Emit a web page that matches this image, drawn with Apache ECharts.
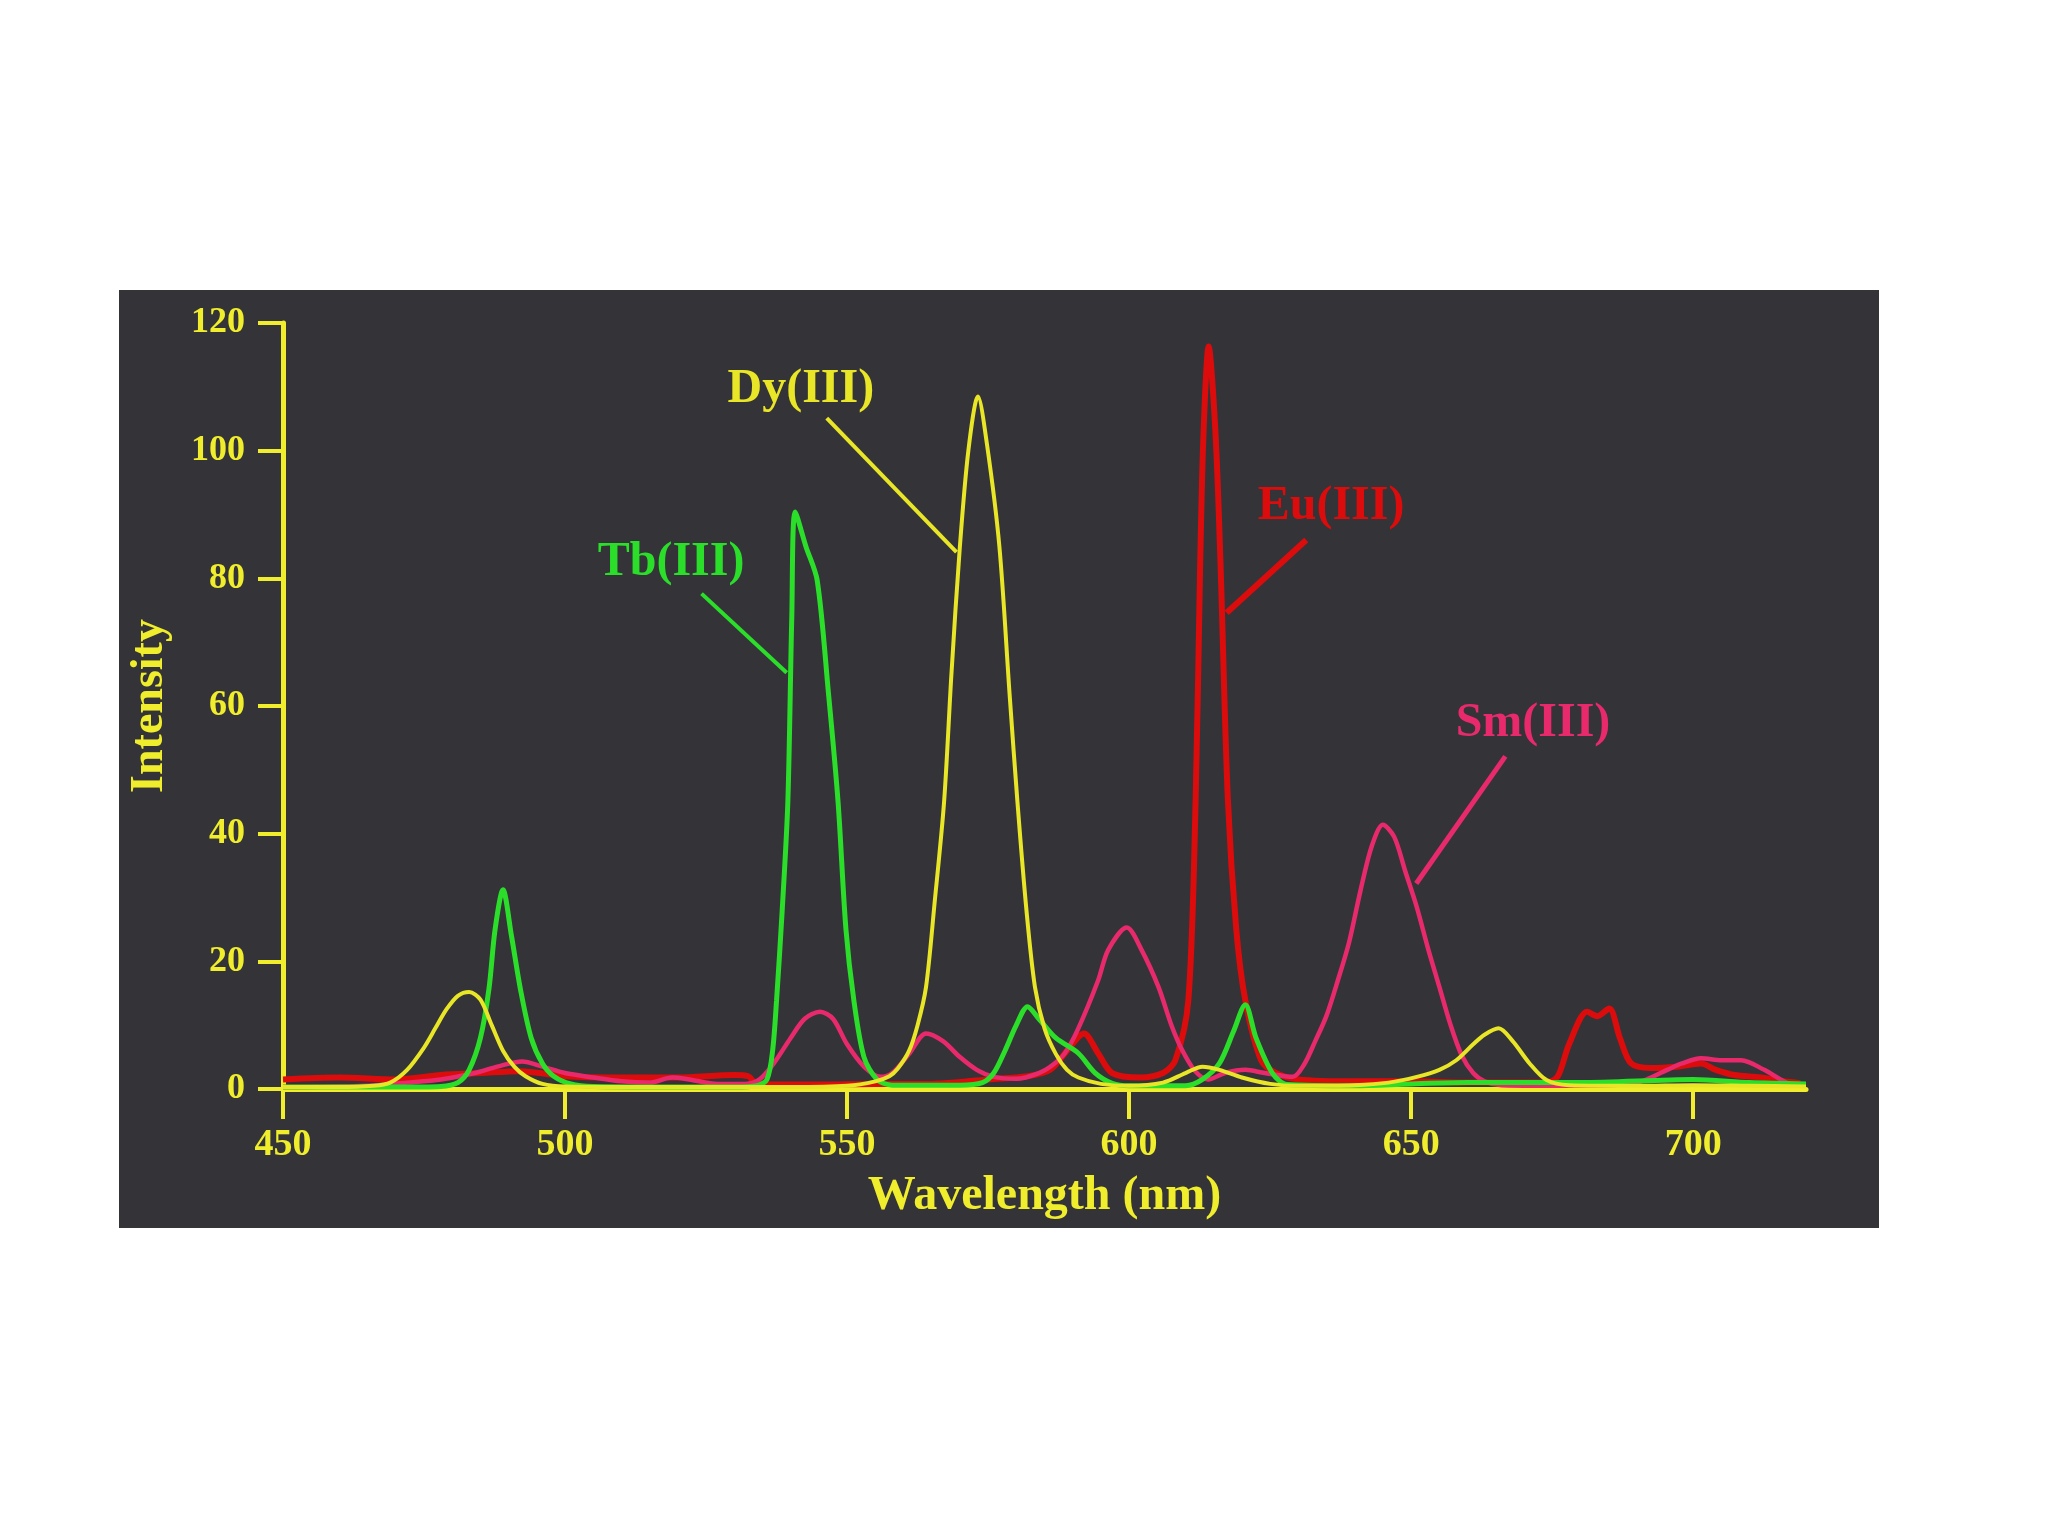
<!DOCTYPE html>
<html>
<head>
<meta charset="utf-8">
<title>Lanthanide emission spectra</title>
<script src="https://cdn.jsdelivr.net/npm/echarts@6/dist/echarts.min.js"></script>
<style>
  html, body { margin: 0; padding: 0; background: #fff; }
  #chart { width: 2048px; height: 1536px; }
</style>
</head>
<body>
<div id="chart"></div>
<script>
// tick values
const wavelengthTicks = [450, 500, 550, 600, 650, 700];
const intensityTicks = [0, 20, 40, 60, 80, 100, 120];

// spectra, [wavelength nm, intensity]
const dyData = [
  [450, 0.3], [460, 0.3], [466, 0.5], [469, 1], [472, 3], [475, 6.5], [477, 9.5], [479, 12.5],
  [481, 14.6], [483, 15.2], [485, 14], [487, 10], [489, 6], [491, 3.5], [493, 2], [496, 0.8],
  [500, 0.4], [520, 0.3], [540, 0.3], [550, 0.5], [555, 1.2], [557.5, 2], [559, 3.2], [561, 6],
  [562.5, 10], [564, 16], [565.5, 29], [567.2, 45], [568.5, 65], [570, 85], [571.5, 100],
  [573.2, 108.5], [574.8, 101], [577, 85], [578.8, 62], [580.2, 45], [581.8, 28], [583.3, 16],
  [585, 9.5], [587, 5.5], [589, 3], [591, 1.8], [595, 0.8], [600, 0.5], [606, 1], [610, 2.5],
  [613, 3.5], [616, 3], [620, 1.8], [625, 0.8], [630, 0.5], [640, 0.6], [646, 1], [651, 1.9],
  [655, 3], [658, 4.5], [661, 7], [663, 8.5], [665.5, 9.5], [668, 7.5], [671, 4], [674, 1.4],
  [678, 0.6], [690, 0.5], [700, 0.6], [710, 0.5], [720, 0.4]
];
const tbData = [
  [450, 0.3], [470, 0.3], [478, 0.4], [481, 1], [483, 3], [485, 8], [486.5, 15.6], [487.6, 25],
  [489, 31.2], [490.5, 24], [492.1, 15.6], [494, 8], [496, 4], [498, 2], [501, 0.8], [505, 0.4],
  [530, 0.3], [534, 0.5], [535.8, 1.5], [536.8, 6], [537.5, 13.9], [538.5, 28], [539.5, 45],
  [540.2, 74], [540.8, 90.4], [542.7, 85], [544.7, 79.7], [546.7, 62], [548.4, 45], [549.8, 25],
  [551.2, 13.9], [553, 5], [555.3, 1.5], [558, 0.6], [570, 0.6], [574, 1], [576, 2.5], [578, 6],
  [580, 10], [582, 12.9], [584, 11], [587, 8], [591, 5.6], [594, 2.5], [597, 0.9], [600, 0.5],
  [610, 0.5], [613, 1.5], [616, 4], [618.5, 9], [620.6, 13.2], [622.5, 8], [625.4, 2.5],
  [628, 0.7], [640, 0.5], [650, 0.8], [660, 1], [680, 1], [700, 1.5], [710, 1], [720, 0.8]
];
const euData = [
  [450, 1.5], [460, 1.8], [470, 1.5], [478, 2.2], [485, 2.5], [492, 2.8], [500, 2], [510, 1.8],
  [520, 1.8], [530, 2.2], [532.5, 2], [534, 0.8], [545, 0.7], [555, 0.8], [565, 0.8], [575, 1.5],
  [582, 2], [586, 3], [589, 6], [592, 8.7], [594.5, 5.6], [597, 2.5], [602, 1.8], [606, 2.5],
  [608.2, 4.5], [610.5, 13.9], [611.8, 45.5], [612.6, 82.4], [613.2, 103], [614.1, 116.3],
  [615.3, 103], [616.2, 82.4], [617.5, 45.5], [619, 25], [620.6, 13.9], [623.4, 4.5], [626, 2.5],
  [630, 1.5], [640, 1.2], [650, 1.2], [660, 1], [670, 1], [674, 1], [676, 2], [678, 7],
  [681.2, 12.1], [683, 11.4], [685.1, 12.6], [687, 8], [689, 4], [692.5, 3.3], [697, 3.5],
  [701.4, 4], [704, 3], [707.3, 2.2], [712, 1.8], [716, 1.2], [719, 0.9]
];
const smData = [
  [450, 0.3], [465, 0.5], [472, 1], [478, 1.5], [484, 2.5], [488, 3.5], [492.4, 4.3], [496, 3.5],
  [500, 2.5], [505, 1.8], [510, 1.2], [515, 1], [519, 1.8], [522, 1.5], [527, 0.8], [532, 0.8],
  [534.5, 1.5], [537, 4], [540, 8], [542.5, 11], [545.2, 12.1], [547.5, 11], [550, 7], [553, 3.5],
  [555.9, 1.9], [558, 2.5], [561, 5.5], [564, 8.7], [567, 7.5], [570, 5], [573, 3], [576, 1.9],
  [580, 1.6], [584, 2.5], [586.5, 3.8], [588.6, 5.6], [591, 9.5], [594.5, 17], [596.3, 21.8],
  [599.6, 25.3], [602.2, 21.8], [605.2, 16], [607.5, 10], [609.4, 6.1], [611.7, 2.8], [614, 1.5],
  [617, 2.5], [620.6, 3], [624, 2.5], [629, 1.9], [631, 3.8], [633, 7.5], [635, 11.5], [637, 17],
  [639, 23], [641, 31], [643, 38], [645, 41.4], [647, 39.5], [649, 34], [651, 28.5], [653, 22],
  [655, 16], [657, 10], [659, 5.2], [661, 2.5], [663, 1.2], [666, 0.6], [680, 0.5], [690, 1],
  [695.4, 3], [698, 4], [701.4, 4.8], [705, 4.5], [708.5, 4.5], [712.6, 3], [716.8, 0.9], [720, 0.5]
];

// annotation names, label anchor and leader line ends (data coords)
const ionNames = ['Dy(III)', 'Tb(III)', 'Eu(III)', 'Sm(III)'];
const labelCoords = [[541.8, 109.5], [518.8, 82.4], [635.8, 91.3], [671.6, 57.2]];
const leaderLines = [
  [[546.4, 105.1], [569.4, 84.1]],
  [[524.2, 77.6], [539.3, 65.2]],
  [[631.4, 86.0], [617.3, 74.6]],
  [[666.7, 52.1], [650.9, 32.2]]
];

const AXIS_YELLOW = '#f0ee2c';
const FONT = '"Liberation Serif", "DejaVu Serif", serif';

function makeSeries(name, data, color, width, idx, leaderWidth) {
  return {
    name: name,
    type: 'line',
    data: data,
    showSymbol: false,
    smooth: 0.3,
    lineStyle: { color: color, width: width },
    itemStyle: { color: color },
    markPoint: {
      silent: true,
      symbol: 'circle',
      symbolSize: 1,
      itemStyle: { color: 'rgba(0,0,0,0)' },
      label: {
        show: true,
        position: 'inside',
        formatter: ionNames[idx],
        color: color,
        fontFamily: FONT,
        fontWeight: 'bold',
        fontSize: 48
      },
      data: [{ coord: labelCoords[idx] }]
    },
    markLine: {
      silent: true,
      symbol: ['none', 'none'],
      label: { show: false },
      lineStyle: { color: color, width: leaderWidth, type: 'solid' },
      data: [[{ coord: leaderLines[idx][0] }, { coord: leaderLines[idx][1] }]]
    }
  };
}

const chart = echarts.init(document.getElementById('chart'));
chart.setOption({
  animation: false,
  backgroundColor: '#ffffff',
  graphic: [{
    type: 'rect',
    z: -10,
    shape: { x: 119, y: 290, width: 1760, height: 938 },
    style: { fill: '#343338' }
  }],
  grid: { left: 283, top: 323, width: 1523, height: 766 },
  xAxis: {
    type: 'value',
    min: 450,
    max: 720,
    interval: 50,
    name: 'Wavelength (nm)',
    nameLocation: 'middle',
    nameGap: 84,
    nameTextStyle: { color: AXIS_YELLOW, fontFamily: FONT, fontWeight: 'bold', fontSize: 48 },
    axisLine: { lineStyle: { color: AXIS_YELLOW, width: 5 } },
    axisTick: { length: 30, lineStyle: { color: AXIS_YELLOW, width: 4 }, customValues: wavelengthTicks },
    axisLabel: {
      color: AXIS_YELLOW, fontFamily: FONT, fontWeight: 'bold', fontSize: 38, margin: 37,
      customValues: wavelengthTicks
    },
    splitLine: { show: false }
  },
  yAxis: {
    type: 'value',
    min: 0,
    max: 120,
    interval: 20,
    name: 'Intensity',
    nameLocation: 'middle',
    nameGap: 110,
    nameTextStyle: { color: AXIS_YELLOW, fontFamily: FONT, fontWeight: 'bold', fontSize: 46 },
    axisLine: { lineStyle: { color: AXIS_YELLOW, width: 5 } },
    axisTick: { length: 25, lineStyle: { color: AXIS_YELLOW, width: 4 }, customValues: intensityTicks },
    axisLabel: {
      color: AXIS_YELLOW, fontFamily: FONT, fontWeight: 'bold', fontSize: 36, margin: 38,
      customValues: intensityTicks
    },
    splitLine: { show: false }
  },
  series: [
    makeSeries('Eu(III)', euData, '#dc0c0c', 6, 2, 6),
    makeSeries('Sm(III)', smData, '#e82a6c', 4.5, 3, 5),
    makeSeries('Tb(III)', tbData, '#2ade2a', 5, 1, 4),
    makeSeries('Dy(III)', dyData, '#e8e626', 4, 0, 4)
  ]
});
</script>
</body>
</html>
